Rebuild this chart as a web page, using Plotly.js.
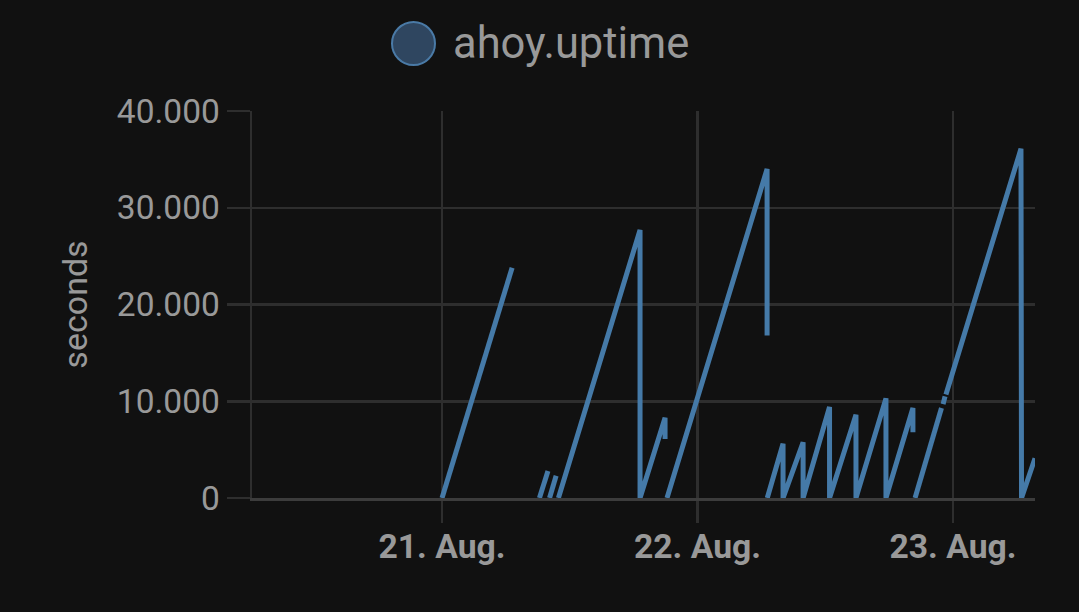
<!DOCTYPE html>
<html>
<head>
<meta charset="utf-8">
<script src="https://cdn.plot.ly/plotly-3.0.1.min.js"></script>
<style>html,body{margin:0;padding:0;background:#111111;}#chart{width:1079px;height:612px;}</style>
</head>
<body>
<div id="chart"></div>
<script>
const seriesName = "ahoy.uptime";
const times = [
 "2023-08-21 00:00","2023-08-21 06:35",null,
 "2023-08-21 09:09","2023-08-21 09:57",null,
 "2023-08-21 10:06","2023-08-21 10:43",null,
 "2023-08-21 10:56","2023-08-21 18:36","2023-08-21 18:36","2023-08-21 20:57","2023-08-21 20:57",null,
 "2023-08-21 21:08","2023-08-22 06:32","2023-08-22 06:32",null,
 "2023-08-22 06:33","2023-08-22 08:02","2023-08-22 08:02","2023-08-22 09:55","2023-08-22 09:55",
 "2023-08-22 12:24","2023-08-22 12:24","2023-08-22 14:53","2023-08-22 14:53",
 "2023-08-22 17:42","2023-08-22 17:42","2023-08-22 20:14","2023-08-22 20:14",null,
 "2023-08-22 20:26","2023-08-22 22:55",null,
 "2023-08-22 23:04","2023-08-22 23:15",null,
 "2023-08-22 23:20","2023-08-23 06:23","2023-08-23 06:26","2023-08-23 07:42"
];
const uptime = [
 0,23800,null,
 0,2800,null,
 0,2300,null,
 0,27700,0,8300,6100,null,
 0,34000,16800,null,
 0,5600,0,5750,0,
 9400,0,8600,0,
 10300,0,9300,6800,null,
 0,9300,null,
 9700,10500,null,
 10700,36100,0,4100
];
const xTickVals = ["2023-08-21","2023-08-22","2023-08-23"];
const xTickText = ["21. Aug.","22. Aug.","23. Aug."];
const yTickVals = [0,10000,20000,30000,40000];
const yTickText = ["0","10.000","20.000","30.000","40.000"];
const yTitle = "seconds";

const font = "Roboto, sans-serif";
const textColor = "#999999";
const gridColor = "#2e2e2e";
const lineColor = "#457aa8";

Plotly.newPlot("chart", [{
  type: "scatter", mode: "lines", name: seriesName,
  x: times, y: uptime,
  line: {color: lineColor, width: 5, shape: "linear"},
  connectgaps: false, showlegend: false, hoverinfo: "x+y"
}], {
  width: 1079, height: 612,
  paper_bgcolor: "#111111", plot_bgcolor: "#111111",
  margin: {l: 252, r: 44, t: 111, b: 114, pad: 0},
  showlegend: false,
  font: {family: font, color: textColor},
  xaxis: {
    type: "date", range: ["2023-08-20 06:09","2023-08-23 07:42"],
    tickmode: "array", tickvals: xTickVals, ticktext: xTickText,
    tickfont: {family: font, size: 33.7, color: textColor, weight: 700},
    ticks: "outside", ticklen: 22, tickwidth: 2.5, tickcolor: gridColor,
    showgrid: true, gridcolor: gridColor, gridwidth: 2.5,
    showline: true, linecolor: "#3c3c3c", linewidth: 3, zeroline: false,
    ticklabelstandoff: -5
  },
  yaxis: {
    range: [0, 40000],
    tickmode: "array", tickvals: yTickVals, ticktext: yTickText,
    tickfont: {family: font, size: 33.5, color: textColor},
    ticks: "outside", ticklen: 23, tickwidth: 2.5, tickcolor: gridColor,
    showgrid: true, gridcolor: gridColor, gridwidth: 2.5,
    showline: true, linecolor: gridColor, linewidth: 2.5, zeroline: false,
    title: {text: yTitle, font: {family: font, size: 34, color: textColor}, standoff: 19}
  },
  shapes: [{
    type: "circle", xref: "paper", yref: "paper", layer: "above",
    x0: (392-252)/783, x1: (435-252)/783, y0: (498-65)/387, y1: (498-22)/387,
    fillcolor: "#2f4660", line: {color: "#4a7aa6", width: 2}
  }],
  annotations: [{
    text: seriesName, xref: "paper", yref: "paper", showarrow: false,
    x: (451-252)/783, y: (498-43)/387, xanchor: "left", yanchor: "middle",
    font: {family: font, size: 43.5, color: textColor}
  }]
}, {staticPlot: true});
</script>
</body>
</html>
